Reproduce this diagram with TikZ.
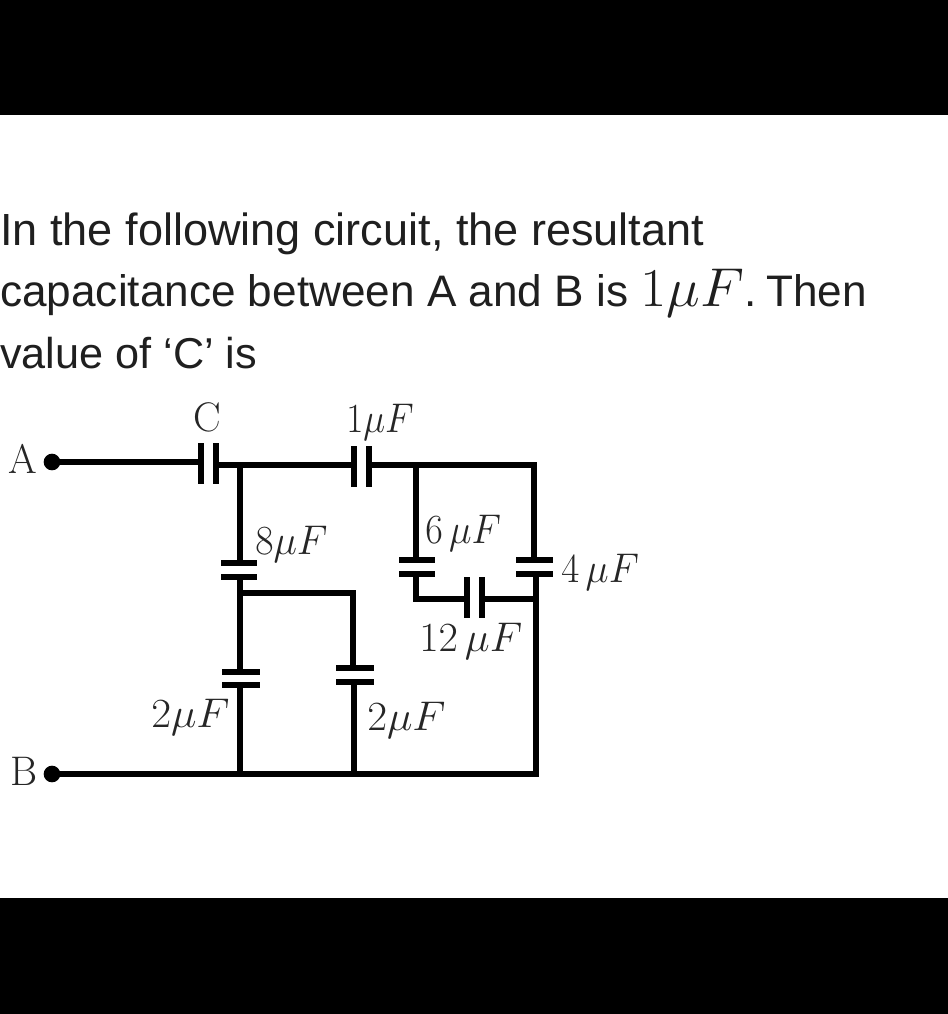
\documentclass[tikz,border=0pt]{standalone}
\usepackage{fontspec}
\newfontfamily\bodyfont{Liberation Sans}
\tikzset{
  wire/.style={line width=3.9pt,line join=miter,line cap=rect},
  plate/.style={line width=4.2pt,line cap=butt},
  terminal/.style={circle,fill=black,inner sep=0pt,minimum size=12.5pt},
  prose/.style={anchor=base west,inner sep=0pt,text=black!88},
  lab/.style={anchor=base west,inner sep=0pt,font=\fontsize{24.88pt}{30pt}\selectfont,text=black!85},
  letter/.style={anchor=base west,inner sep=0pt,font=\fontsize{31pt}{36pt}\selectfont,text=black!85}
}
\begin{document}
\begin{tikzpicture}[x=0.75pt,y=-0.75pt]
\useasboundingbox (0,0) rectangle (948,1014);
\fill[white] (0,0) rectangle (948,1014);
\fill[black] (0,0) rectangle (948,114.5);
\fill[black] (0,898) rectangle (948,1014);
\node[prose,font=\bodyfont\fontsize{33.8pt}{40pt}\selectfont] (l1) at (0,245) {In the following circuit, the resultant};
\node[prose,font=\bodyfont\fontsize{33.1pt}{40pt}\selectfont] (l2) at (0,306) {capacitance between A and B is {\fontsize{24.88pt}{30pt}\selectfont\scalebox{1.72}[1.65]{$1\mu F$}}.\hspace{-5pt} Then};
\node[prose,font=\bodyfont\fontsize{32.4pt}{40pt}\selectfont] (l3) at (0,368) {value of ‘C’ is};
% terminals
\node[terminal] (A) at (52,462) {};
\node[terminal] (B) at (52,774) {};
% junctions
\coordinate (Cl) at (201,462);
\coordinate (Cr) at (216,465);
\coordinate (J1) at (240,465);
\coordinate (Ul) at (354,465);
\coordinate (Ur) at (369,465);
\coordinate (J2) at (416,465);
\coordinate (TR) at (534,465);
\coordinate (Et) at (240,563);
\coordinate (Eb) at (240,577);
\coordinate (J3) at (240,593);
\coordinate (Lt) at (240,672);
\coordinate (Lb) at (240,685);
\coordinate (K) at (353,593);
\coordinate (Rt) at (353,668);
\coordinate (Rb) at (354,682);
\coordinate (St) at (416,560);
\coordinate (Sb) at (416,574);
\coordinate (SC) at (416,599);
\coordinate (Tl) at (467,599);
\coordinate (Tr) at (482,599);
\coordinate (Ft) at (534,560);
\coordinate (Fb) at (536,574);
\coordinate (J4) at (536,599);
\coordinate (BL) at (240,774);
\coordinate (BR) at (354,774);
\coordinate (BE) at (536,774);
% wires
\draw[wire] (A) -- (Cl);
\draw[wire] (Cr) -- (Ul);
\draw[wire] (Ur) -- (TR) -- (Ft);
\draw[wire] (J1) -- (Et);
\draw[wire] (Eb) -- (Lt);
\draw[wire] (J3) -- (K) -- (Rt);
\draw[wire] (J2) -- (St);
\draw[wire] (Sb) -- (SC) -- (Tl);
\draw[wire] (Tr) -- (J4);
\draw[wire] (Fb) -- (BE) -- (B);
\draw[wire] (Lb) -- (BL);
\draw[wire] (Rb) -- (BR);
% plates
\draw[plate] (Cl |- 0,443) -- (Cl |- 0,484);
\draw[plate] (Cr |- 0,443) -- (Cr |- 0,484);
\draw[plate] (Ul |- 0,446) -- (Ul |- 0,487);
\draw[plate] (Ur |- 0,446) -- (Ur |- 0,487);
\draw[plate] (221,563) -- (257,563);
\draw[plate] (221,577) -- (257,577);
\draw[plate] (222,672) -- (260,672);
\draw[plate] (222,685) -- (260,685);
\draw[plate] (336,668) -- (374,668);
\draw[plate] (336,682) -- (374,682);
\draw[plate] (399,560) -- (435,560);
\draw[plate] (399,574) -- (435,574);
\draw[plate] (516,560) -- (553,560);
\draw[plate] (516,574) -- (553,574);
\draw[plate] (Tl |- 0,577) -- (Tl |- 0,618);
\draw[plate] (Tr |- 0,577) -- (Tr |- 0,618);
% labels
\node[letter] (la) at (8,473) {A};
\node[letter] (lb) at (10,785) {B};
\node[letter] (lc) at (193,431) {C};
\node[lab] (l1u) at (346,432) {\scalebox{1.12}[1.25]{$1\mu F$}};
\node[lab] (l8u) at (255,554) {\scalebox{1.2}[1.25]{$8\mu F$}};
\node[lab] (l6u) at (425,543) {\scalebox{1.15}[1.25]{$6\,\mu F$}};
\node[lab] (l4u) at (561,582) {\scalebox{1.18}[1.25]{$4\,\mu F$}};
\node[lab] (l12u) at (419,651) {\scalebox{1.27}[1.25]{$12\,\mu F$}};
\node[lab] (l2a) at (151,727) {\scalebox{1.3}[1.25]{$2\mu F$}};
\node[lab] (l2b) at (367,730) {\scalebox{1.3}[1.25]{$2\mu F$}};
\end{tikzpicture}
\end{document}
